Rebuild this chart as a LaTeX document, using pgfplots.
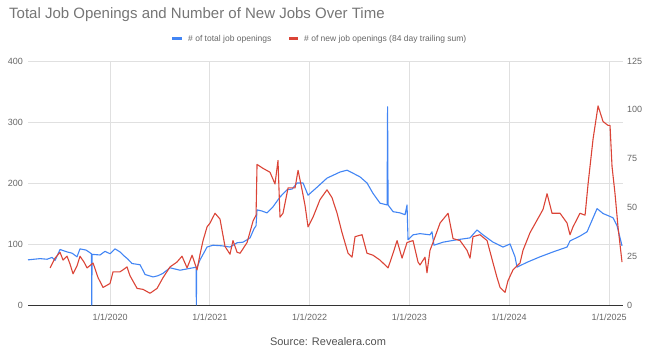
\documentclass[border=0pt]{standalone}
\usepackage{pgfplots}
\pgfplotsset{compat=1.18}
\usepackage{fontspec}
\setmainfont{Liberation Sans}
\definecolor{gblue}{HTML}{4285F4}
\definecolor{gred}{HTML}{DB4437}
\definecolor{gridgray}{HTML}{E0E0E0}
\definecolor{labelgray}{HTML}{666666}
\definecolor{titlegray}{HTML}{757575}
\definecolor{axisgray}{HTML}{333333}
\begin{document}
\begin{tikzpicture}
\useasboundingbox (0pt,0pt) rectangle (649pt,352pt);
\begin{axis}[
  at={(28pt,47pt)}, anchor=south west,
  width=595pt, height=244pt, scale only axis,
  xmin=2019.178, xmax=2025.14, ymin=0, ymax=400,
  xtick={2020,2021,2022,2023,2024,2025},
  xticklabels={1/1/2020,1/1/2021,1/1/2022,1/1/2023,1/1/2024,1/1/2025},
  ytick={0,100,200,300,400},
  grid=major, grid style={draw=gridgray, line width=0.8pt},
  axis x line=bottom, axis y line=left,
  x axis line style={draw=axisgray, line width=0.8pt, -},
  y axis line style={draw=none},
  major tick length=0pt,
  tick label style={font=\fontsize{9}{10}\selectfont, text=labelgray},
  /pgf/number format/assume math mode=true,
  yticklabel style={anchor=east, inner sep=0pt, xshift=-5pt},
  xticklabel style={anchor=north, inner sep=0pt, yshift=-9pt},
  clip=false,
]
\addplot[gblue, line width=1.1pt, line join=round] coordinates {
(2019.178,74) (2019.299,76) (2019.369,75) (2019.419,78) (2019.449,73) (2019.499,91)
(2019.569,87) (2019.619,85) (2019.669,79) (2019.699,92) (2019.760,90) (2019.814,84)
(2019.817,0) (2019.820,83) (2019.900,82) (2019.950,88) (2020.000,84) (2020.050,92)
(2020.100,87) (2020.130,82) (2020.180,75) (2020.220,68) (2020.301,66) (2020.351,50)
(2020.431,46) (2020.481,48) (2020.531,52) (2020.601,61) (2020.701,57) (2020.832,61)
(2020.862,62) (2020.865,0) (2020.868,60) (2020.902,74) (2020.972,95) (2021.032,98)
(2021.122,97) (2021.202,95) (2021.273,102) (2021.333,103) (2021.403,110) (2021.443,125)
(2021.463,130) (2021.473,156) (2021.523,154) (2021.573,151) (2021.633,161) (2021.703,177)
(2021.774,189) (2021.824,190) (2021.874,200) (2021.934,200) (2021.984,180) (2022.074,193)
(2022.174,208) (2022.305,218) (2022.375,221) (2022.435,216) (2022.505,210) (2022.575,200)
(2022.635,183) (2022.705,167) (2022.776,164) (2022.781,325) (2022.786,164) (2022.836,153)
(2022.906,151) (2022.956,148) (2022.976,164) (2022.986,107) (2023.036,115) (2023.106,117)
(2023.206,115) (2023.226,120) (2023.246,98) (2023.337,103) (2023.477,107) (2023.607,110)
(2023.677,123) (2023.737,115) (2023.838,103) (2023.938,95) (2024.008,100) (2024.058,79)
(2024.078,62) (2024.178,70) (2024.309,79) (2024.439,87) (2024.579,95) (2024.609,105)
(2024.709,113) (2024.780,120) (2024.830,139) (2024.880,158) (2024.940,150) (2025.040,143)
(2025.080,130) (2025.130,97)
};
\end{axis}
\begin{axis}[
  at={(28pt,47pt)}, anchor=south west,
  width=595pt, height=244pt, scale only axis,
  xmin=2019.178, xmax=2025.14, ymin=0, ymax=125,
  ytick={0,25,50,75,100,125},
  axis x line=none, axis y line=right,
  y axis line style={draw=none},
  major tick length=0pt,
  tick label style={font=\fontsize{9}{10}\selectfont, text=labelgray},
  /pgf/number format/assume math mode=true,
  yticklabel style={anchor=west, inner sep=0pt, xshift=4pt},
  clip=false,
]
\addplot[gred, line width=1.1pt, line join=round] coordinates {
(2019.399,19) (2019.449,24) (2019.499,27) (2019.529,23) (2019.569,25) (2019.599,21)
(2019.629,16) (2019.669,20) (2019.699,25) (2019.739,22) (2019.770,19) (2019.830,21.5)
(2019.880,14) (2019.930,9) (2020.000,11) (2020.030,17) (2020.100,17) (2020.130,18)
(2020.170,19.5) (2020.200,15) (2020.271,8.5) (2020.331,8) (2020.401,6) (2020.471,8.5)
(2020.531,14) (2020.601,19.5) (2020.671,22) (2020.721,25) (2020.772,19) (2020.822,25.5)
(2020.872,18) (2020.902,26) (2020.932,33) (2020.972,40) (2021.002,42) (2021.052,47)
(2021.102,44) (2021.152,30) (2021.202,26) (2021.232,33) (2021.273,27) (2021.303,26.5)
(2021.373,32) (2021.433,43) (2021.463,46) (2021.473,72) (2021.533,70) (2021.603,68)
(2021.653,62) (2021.683,74) (2021.703,45) (2021.733,47) (2021.784,60) (2021.854,60)
(2021.884,69) (2021.924,59) (2021.954,51) (2021.984,40) (2022.034,45) (2022.104,54)
(2022.174,59) (2022.224,55) (2022.275,47) (2022.325,37) (2022.385,26.5) (2022.425,24.5)
(2022.455,35) (2022.525,36) (2022.575,26.5) (2022.635,25.5) (2022.705,23) (2022.786,19)
(2022.836,26.5) (2022.876,33) (2022.926,24) (2022.976,32) (2023.036,33) (2023.086,22)
(2023.106,20.5) (2023.156,24.5) (2023.176,16.5) (2023.206,28) (2023.236,32) (2023.307,42)
(2023.387,47) (2023.437,34) (2023.507,33) (2023.577,28) (2023.607,24) (2023.637,35)
(2023.707,36) (2023.778,33) (2023.838,21.5) (2023.878,14) (2023.908,9) (2023.958,6.5)
(2023.988,12.5) (2024.038,18) (2024.108,21.5) (2024.138,28) (2024.208,37) (2024.279,43.5)
(2024.339,49) (2024.379,57) (2024.429,47) (2024.509,47) (2024.579,42) (2024.609,36)
(2024.639,40) (2024.709,47) (2024.760,46) (2024.790,62) (2024.840,85) (2024.890,102)
(2024.940,94) (2024.990,92) (2025.010,92) (2025.030,71) (2025.060,57) (2025.090,40)
(2025.130,22)
};
\end{axis}
\node[anchor=base west, inner sep=0pt, font=\fontsize{15}{18}\selectfont, text=titlegray] at (9pt,333pt) {Total Job Openings and Number of New Jobs Over Time};
\fill[gblue] (172pt,311.5pt) rectangle (182pt,314.5pt);
\node[anchor=west, inner sep=0pt, font=\fontsize{8.5}{10}\selectfont, text=labelgray] at (188pt,313pt) {\# of total job openings};
\fill[gred] (289pt,311.5pt) rectangle (298pt,314.5pt);
\node[anchor=west, inner sep=0pt, font=\fontsize{8.5}{10}\selectfont, text=labelgray] at (304pt,313pt) {\# of new job openings (84 day trailing sum)};
\node[anchor=center, inner sep=0pt, font=\fontsize{11}{13}\selectfont, text=axisgray!85] at (328pt,10pt) {Source: Revealera.com};
\end{tikzpicture}
\end{document}
